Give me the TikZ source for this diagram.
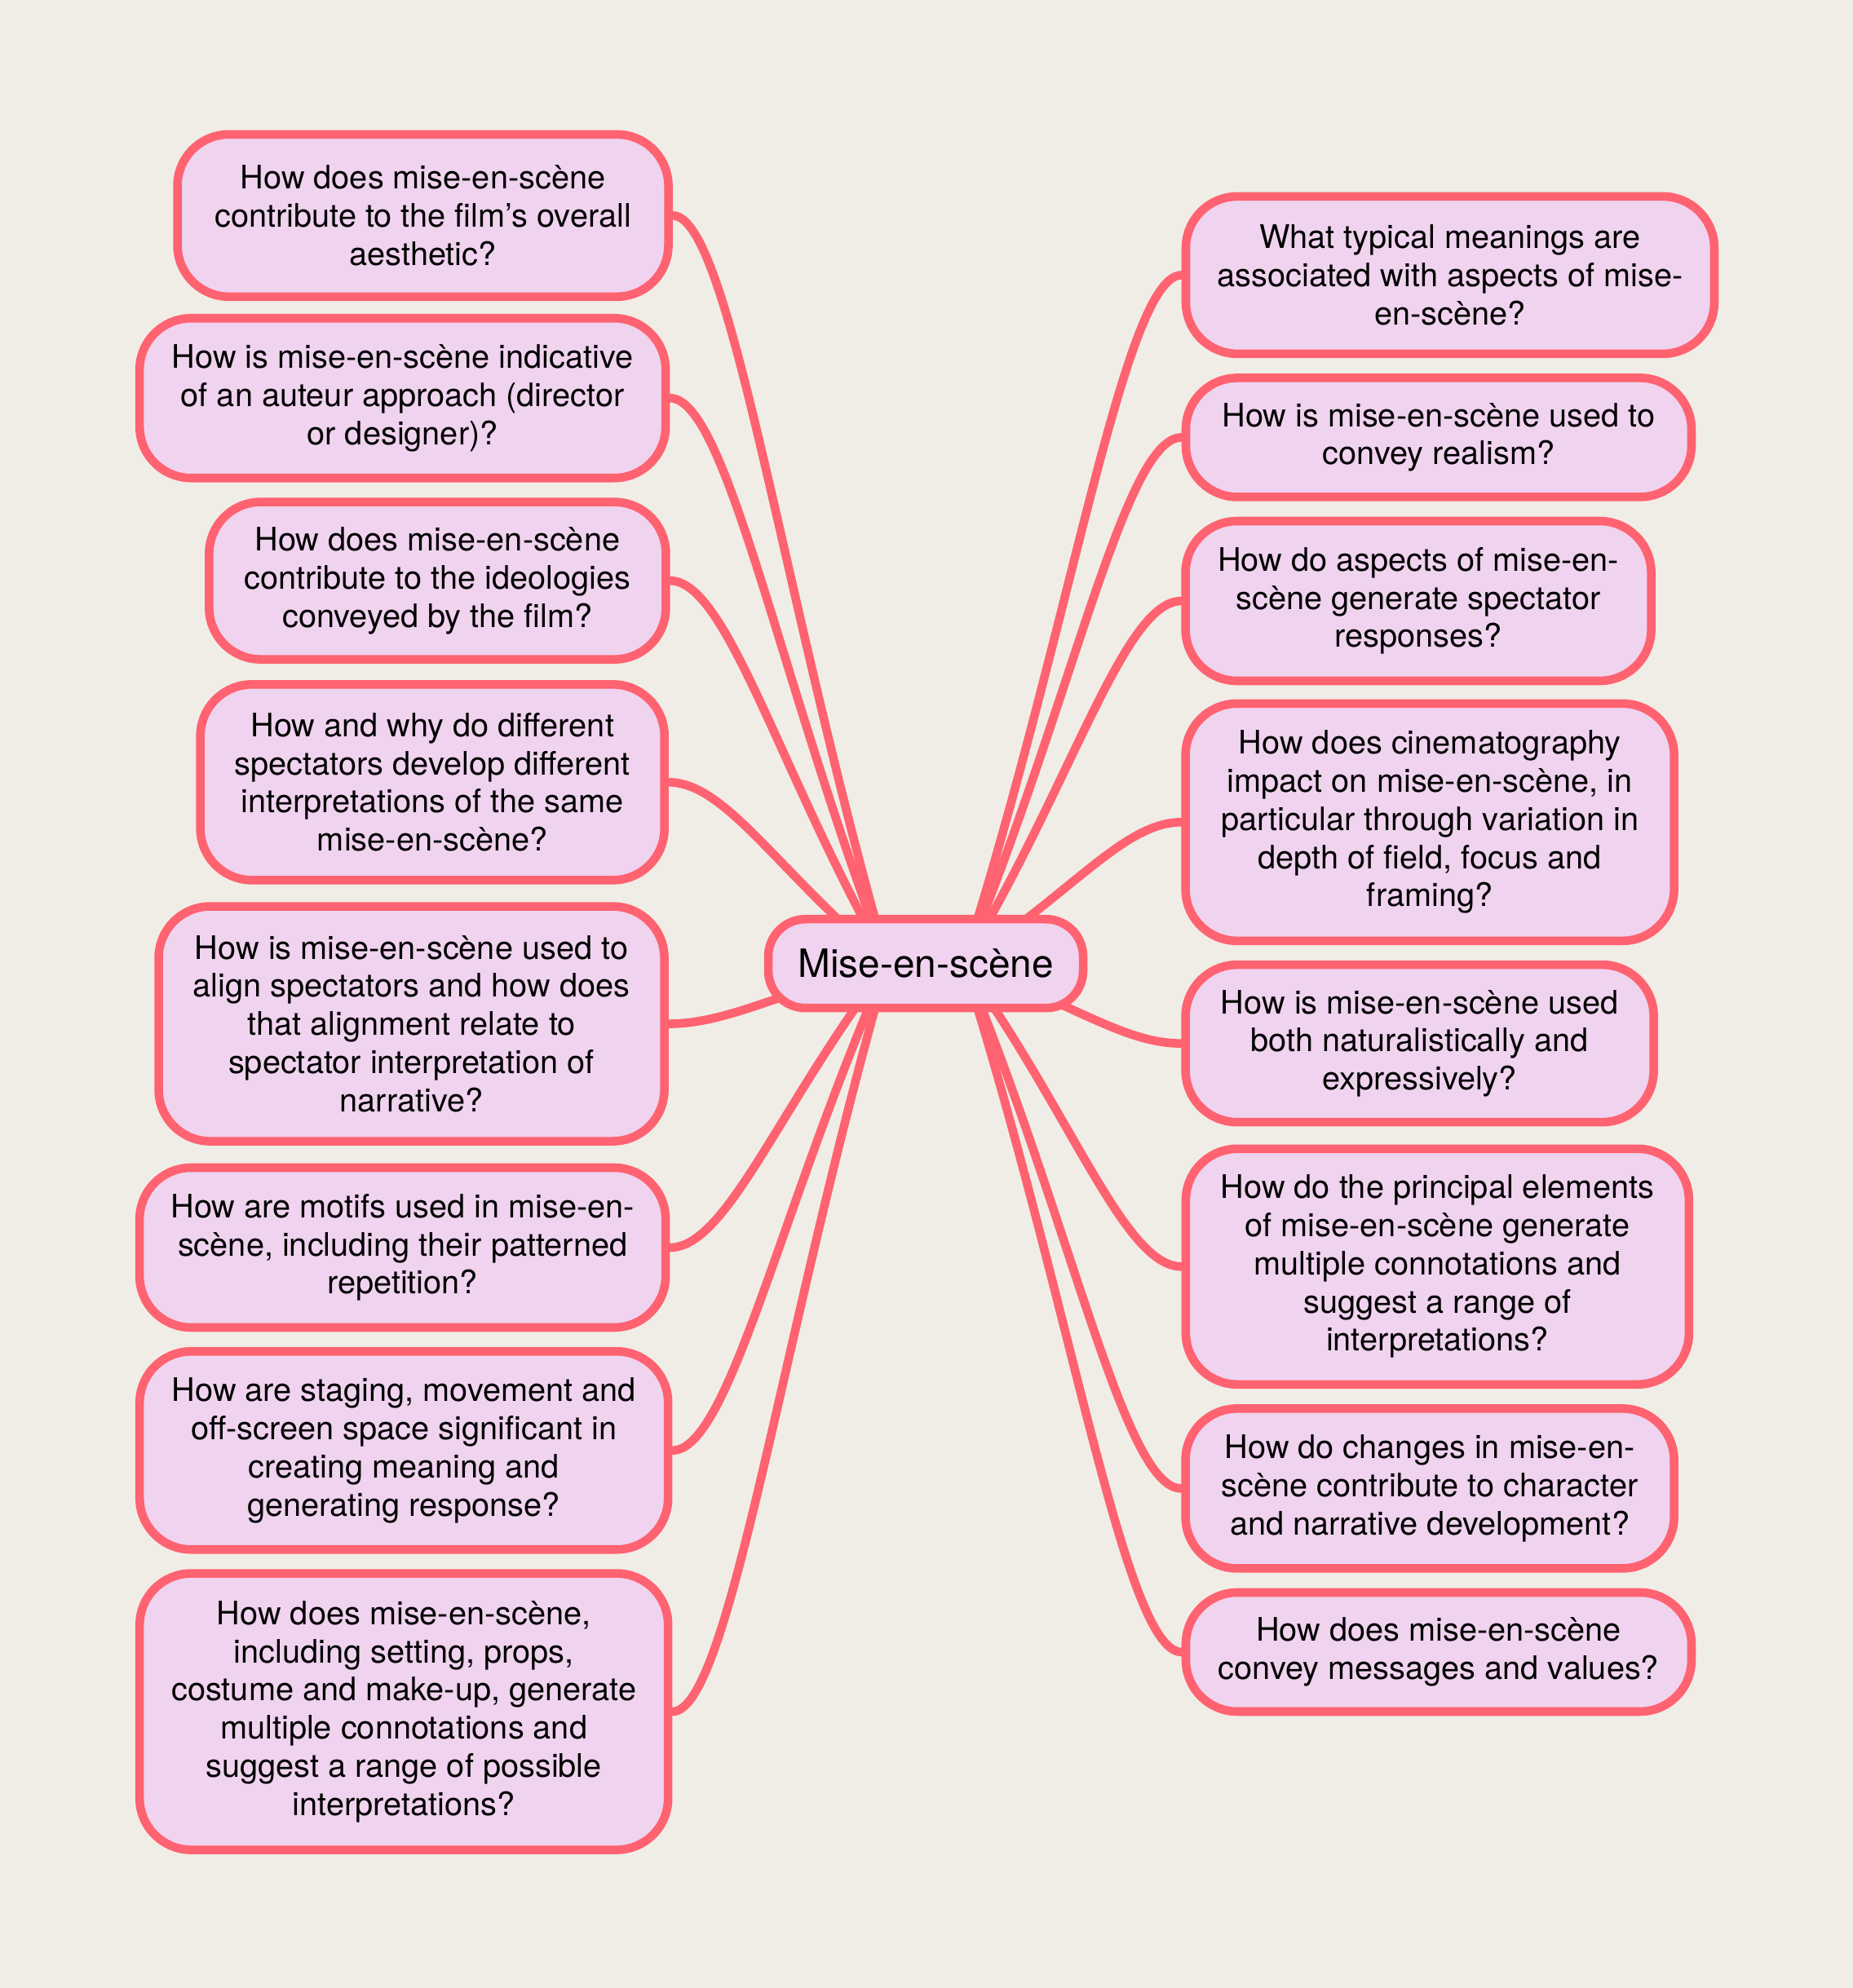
\documentclass[tikz,border=0pt]{standalone}
\usepackage{fontspec}
\setmainfont{TeX Gyre Heros}
\usepackage{xcolor}
\usepackage{tikz}
\usetikzlibrary{calc,backgrounds}
\definecolor{paperBeige}{HTML}{F0EDE6}
\definecolor{boxPink}{HTML}{F0D3EF}
\definecolor{edgeRed}{HTML}{FF6270}

\begin{document}
\begin{tikzpicture}[x=0.01555cm, y=-0.01555cm,
  qbox/.style={draw=edgeRed, fill=boxPink, line width=3pt, rounded corners=18pt,
    align=center, inner sep=0pt, font=\fontsize{11.3}{13.3}\selectfont},
  rootbox/.style={qbox, rounded corners=13pt, font=\fontsize{13.6}{16}\selectfont},
  link/.style={draw=edgeRed, line width=3pt, line cap=round}]
\begin{scope}[on background layer]
\fill[paperBeige] (0,0) rectangle (1461,1568);
\end{scope}
% --- centre ---
\node[rootbox, minimum width=3.86cm, minimum height=1.09cm] (root) at (730,760) {Mise-en-scène};
\coordinate (rootL) at (700,760);
\coordinate (rootR) at (760,760);
% --- left questions ---
\node[qbox, minimum width=6.02cm, minimum height=1.99cm] (l1) at (333.5,170) {How does mise-en-scène\\contribute to the film’s overall\\aesthetic?};
\node[qbox, minimum width=6.45cm, minimum height=1.96cm] (l2) at (317.5,314) {How is mise-en-scène indicative\\of an auteur approach (director\\or designer)?};
\node[qbox, minimum width=5.60cm, minimum height=1.93cm] (l3) at (345,458) {How does mise-en-scène\\contribute to the ideologies\\conveyed by the film?};
\node[qbox, minimum width=5.69cm, minimum height=2.40cm] (l4) at (341,617) {How and why do different\\spectators develop different\\interpretations of the same\\mise-en-scène?};
\node[qbox, minimum width=6.20cm, minimum height=2.88cm] (l5) at (324.5,807.5) {How is mise-en-scène used to\\align spectators and how does\\that alignment relate to\\spectator interpretation of\\narrative?};
\node[qbox, minimum width=6.45cm, minimum height=1.96cm] (l6) at (317.5,984) {How are motifs used in mise-en-\\scène, including their patterned\\repetition?};
\node[qbox, minimum width=6.48cm, minimum height=2.43cm] (l7) at (318.5,1144) {How are staging, movement and\\off-screen space significant in\\creating meaning and\\generating response?};
\node[qbox, minimum width=6.48cm, minimum height=3.39cm] (l8) at (318.5,1350) {How does mise-en-scène,\\including setting, props,\\costume and make-up, generate\\multiple connotations and\\suggest a range of possible\\interpretations?};
% --- right questions ---
\node[qbox, minimum width=6.48cm, minimum height=1.93cm] (r1) at (1143.5,217) {What typical meanings are\\associated with aspects of mise-\\en-scène?};
\node[qbox, minimum width=6.20cm, minimum height=1.46cm] (r2) at (1134.5,345) {How is mise-en-scène used to\\convey realism?};
\node[qbox, minimum width=5.71cm, minimum height=1.96cm] (r3) at (1118.5,474) {How do aspects of mise-en-\\scène generate spectator\\responses?};
\node[qbox, minimum width=5.99cm, minimum height=2.91cm] (r4) at (1127.5,648.5) {How does cinematography\\impact on mise-en-scène, in\\particular through variation in\\depth of field, focus and\\framing?};
\node[qbox, minimum width=5.74cm, minimum height=1.93cm] (r5) at (1119.5,823) {How is mise-en-scène used\\both naturalistically and\\expressively?};
\node[qbox, minimum width=6.17cm, minimum height=2.89cm] (r6) at (1133.5,999) {How do the principal elements\\of mise-en-scène generate\\multiple connotations and\\suggest a range of\\interpretations?};
\node[qbox, minimum width=5.99cm, minimum height=1.96cm] (r7) at (1127.5,1174) {How do changes in mise-en-\\scène contribute to character\\and narrative development?};
\node[qbox, minimum width=6.20cm, minimum height=1.46cm] (r8) at (1134.5,1303) {How does mise-en-scène\\convey messages and values?};
% --- connectors, behind the boxes ---
\begin{scope}[on background layer]
\foreach \n in {l1,l2,l3,l4,l5,l6,l7,l8}
  \draw[link] (\n.east) .. controls +(45,0) and ($(rootL)!.5!(\n.east)$) .. (rootL);
\foreach \n in {r1,r2,r3,r4,r5,r6,r7,r8}
  \draw[link] (\n.west) .. controls +(-45,0) and ($(rootR)!.5!(\n.west)$) .. (rootR);
\end{scope}
\end{tikzpicture}
\end{document}
